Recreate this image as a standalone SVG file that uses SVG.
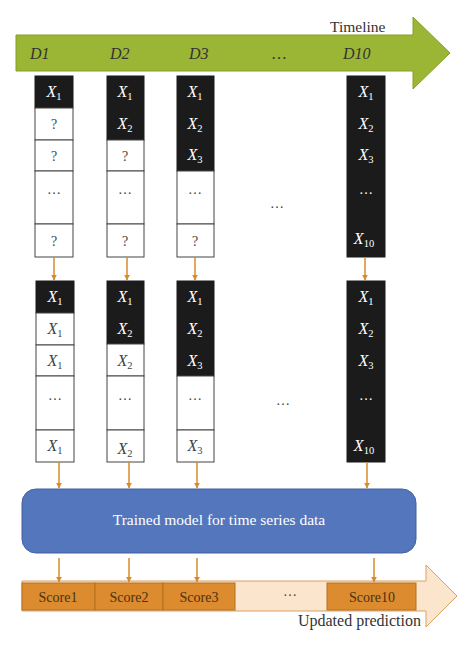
<svg xmlns="http://www.w3.org/2000/svg" width="474" height="647" viewBox="0 0 474 647">
<defs>
<style>
.t{font-family:"Liberation Serif","Times New Roman",serif;}
.lbl{font-size:16px;fill:#333;}
.it{font-style:italic;}
.wx{font-family:"Liberation Serif",serif;font-style:italic;font-size:16px;fill:#fff;text-anchor:middle;}
.bx{font-family:"Liberation Serif",serif;font-style:italic;font-size:16px;fill:#444;text-anchor:middle;}
.q{font-family:"Liberation Serif",serif;font-size:14px;fill:#444;text-anchor:middle;}
.dk{fill:#1b1b1b;stroke:#1b1b1b;stroke-width:1;}
.wh{fill:#fff;stroke:#444;stroke-width:1;}
.sub{font-style:normal;font-size:10.5px;}
.con{stroke:#d98b25;stroke-width:1.5;fill:none;marker-end:url(#ah);}
.sc{fill:#dc8b2f;stroke:#b5711f;stroke-width:1;}
.st{font-family:"Liberation Serif",serif;font-size:14px;fill:#4a3212;text-anchor:middle;}
</style>
<marker id="ah" viewBox="0 0 10 10" refX="9" refY="5" markerWidth="4" markerHeight="4" orient="auto">
<path d="M0,0 L10,5 L0,10 z" fill="#d98b25"/>
</marker>
</defs>

<g id="timeline">
<path d="M16,35 L413,35 L413,17 L450,53 L413,89 L413,71 L16,71 Z" fill="#9bb535" stroke="#86a02b" stroke-width="1"/>
<text class="t" x="330" y="32" font-size="15.5" fill="#333">Timeline</text>
<text class="t lbl it" x="30" y="59">D1</text>
<text class="t lbl it" x="110" y="59">D2</text>
<text class="t lbl it" x="189" y="59">D3</text>
<text class="t lbl" x="271" y="59">…</text>
<text class="t lbl it" x="343" y="59">D10</text>
</g>

<g id="upper-d1">
<rect class="dk" x="35" y="76" width="38" height="32"/>
<rect class="wh" x="35" y="108" width="38" height="32"/>
<rect class="wh" x="35" y="140" width="38" height="31"/>
<rect class="wh" x="35" y="171" width="38" height="53"/>
<rect class="wh" x="35" y="224" width="38" height="33"/>
<text class="wx" x="54" y="97">X<tspan class="sub" dy="3">1</tspan></text>
<text class="q" x="54" y="129">?</text>
<text class="q" x="54" y="161">?</text>
<text class="q" x="54" y="194">…</text>
<text class="q" x="54" y="246">?</text>
</g>

<g id="upper-d2">
<rect class="dk" x="107" y="76" width="37" height="64"/>
<rect class="wh" x="107" y="140" width="37" height="31"/>
<rect class="wh" x="107" y="171" width="37" height="53"/>
<rect class="wh" x="107" y="224" width="37" height="33"/>
<text class="wx" x="125" y="97">X<tspan class="sub" dy="3">1</tspan></text>
<text class="wx" x="125" y="129">X<tspan class="sub" dy="3">2</tspan></text>
<text class="q" x="125" y="161">?</text>
<text class="q" x="125" y="194">…</text>
<text class="q" x="125" y="246">?</text>
</g>

<g id="upper-d3">
<rect class="dk" x="177" y="76" width="37" height="95"/>
<rect class="wh" x="177" y="171" width="37" height="53"/>
<rect class="wh" x="177" y="224" width="37" height="33"/>
<text class="wx" x="195" y="97">X<tspan class="sub" dy="3">1</tspan></text>
<text class="wx" x="195" y="129">X<tspan class="sub" dy="3">2</tspan></text>
<text class="wx" x="195" y="160">X<tspan class="sub" dy="3">3</tspan></text>
<text class="q" x="195" y="194">…</text>
<text class="q" x="195" y="246">?</text>
</g>

<g id="upper-dots">
<text class="q" x="277" y="208">…</text>
</g>

<g id="upper-d10">
<rect class="dk" x="347" y="76" width="38" height="181"/>
<text class="wx" x="366" y="97">X<tspan class="sub" dy="3">1</tspan></text>
<text class="wx" x="366" y="129">X<tspan class="sub" dy="3">2</tspan></text>
<text class="wx" x="366" y="160">X<tspan class="sub" dy="3">3</tspan></text>
<text class="q" x="366" y="194" style="fill:#fff">…</text>
<text class="wx" x="364" y="244">X<tspan class="sub" dy="3">10</tspan></text>
</g>

<g id="lower-d1">
<rect class="dk" x="36" y="281" width="38" height="32"/>
<rect class="wh" x="36" y="313" width="38" height="32"/>
<rect class="wh" x="36" y="345" width="38" height="31"/>
<rect class="wh" x="36" y="376" width="38" height="54"/>
<rect class="wh" x="36" y="430" width="38" height="32"/>
<text class="wx" x="55" y="302">X<tspan class="sub" dy="3">1</tspan></text>
<text class="bx" x="55" y="334">X<tspan class="sub" dy="3">1</tspan></text>
<text class="bx" x="55" y="366">X<tspan class="sub" dy="3">1</tspan></text>
<text class="q" x="55" y="400">…</text>
<text class="bx" x="55" y="451">X<tspan class="sub" dy="3">1</tspan></text>
</g>

<g id="lower-d2">
<rect class="dk" x="107" y="281" width="37" height="63"/>
<rect class="wh" x="107" y="344" width="37" height="32"/>
<rect class="wh" x="107" y="376" width="37" height="54"/>
<rect class="wh" x="107" y="430" width="37" height="32"/>
<text class="wx" x="125" y="302">X<tspan class="sub" dy="3">1</tspan></text>
<text class="wx" x="125" y="334">X<tspan class="sub" dy="3">2</tspan></text>
<text class="bx" x="125" y="366">X<tspan class="sub" dy="3">2</tspan></text>
<text class="q" x="125" y="400">…</text>
<text class="bx" x="125" y="454">X<tspan class="sub" dy="3">2</tspan></text>
</g>

<g id="lower-d3">
<rect class="dk" x="177" y="281" width="37" height="95"/>
<rect class="wh" x="177" y="376" width="37" height="54"/>
<rect class="wh" x="177" y="430" width="37" height="32"/>
<text class="wx" x="195" y="302">X<tspan class="sub" dy="3">1</tspan></text>
<text class="wx" x="195" y="334">X<tspan class="sub" dy="3">2</tspan></text>
<text class="wx" x="195" y="366">X<tspan class="sub" dy="3">3</tspan></text>
<text class="q" x="195" y="400">…</text>
<text class="bx" x="195" y="451">X<tspan class="sub" dy="3">3</tspan></text>
</g>

<g id="lower-dots">
<text class="q" x="283" y="405">…</text>
</g>

<g id="lower-d10">
<rect class="dk" x="347" y="281" width="38" height="181"/>
<text class="wx" x="366" y="302">X<tspan class="sub" dy="3">1</tspan></text>
<text class="wx" x="366" y="334">X<tspan class="sub" dy="3">2</tspan></text>
<text class="wx" x="366" y="366">X<tspan class="sub" dy="3">3</tspan></text>
<text class="q" x="366" y="400" style="fill:#fff">…</text>
<text class="wx" x="364" y="451">X<tspan class="sub" dy="3">10</tspan></text>
</g>

<g id="model">
<rect x="22" y="489" width="394" height="64" rx="14" ry="14" fill="#5376bd" stroke="#41619f" stroke-width="1"/>
<text class="t" x="219" y="525" font-size="15.5" fill="#fff" text-anchor="middle">Trained model for time series data</text>
</g>

<g id="prediction">
<path d="M22,581 L426,581 L426,565 L457,596 L426,627 L426,611 L22,611 Z" fill="#fbe5cd" stroke="#d8a062" stroke-width="1"/>
<text class="t" x="421" y="626" font-size="16" fill="#333" text-anchor="end">Updated prediction</text>
<text class="q" x="290" y="596">…</text>
</g>

<g id="score1"><rect class="sc" x="22" y="583" width="73" height="27"/><text class="st" x="58" y="602">Score1</text></g>
<g id="score2"><rect class="sc" x="95" y="583" width="68" height="27"/><text class="st" x="129" y="602">Score2</text></g>
<g id="score3"><rect class="sc" x="163" y="583" width="72" height="27"/><text class="st" x="199" y="602">Score3</text></g>
<g id="score10"><rect class="sc" x="327" y="583" width="89" height="27"/><text class="st" x="372" y="602">Score10</text></g>

<g id="connectors">
<line class="con" x1="54" y1="257" x2="54" y2="280"/>
<line class="con" x1="127" y1="257" x2="127" y2="280"/>
<line class="con" x1="195" y1="257" x2="195" y2="280"/>
<line class="con" x1="365" y1="257" x2="365" y2="280"/>
<line class="con" x1="59" y1="462" x2="59" y2="488"/>
<line class="con" x1="129" y1="462" x2="129" y2="488"/>
<line class="con" x1="197" y1="462" x2="197" y2="488"/>
<line class="con" x1="367" y1="462" x2="367" y2="488"/>
<line class="con" x1="59" y1="558" x2="59" y2="582"/>
<line class="con" x1="129" y1="558" x2="129" y2="582"/>
<line class="con" x1="197" y1="558" x2="197" y2="582"/>
<line class="con" x1="374" y1="558" x2="374" y2="582"/>
</g>
</svg>
